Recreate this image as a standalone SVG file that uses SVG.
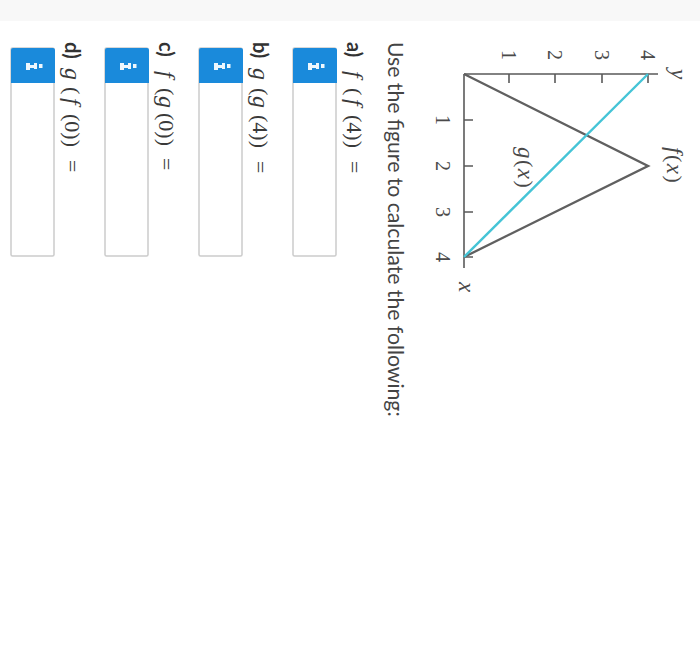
<svg xmlns="http://www.w3.org/2000/svg" width="700" height="659" viewBox="0 0 700 659">
<style>
.ax{stroke:#5a5a5a;stroke-width:1.600;fill:none}
.f{stroke:#606060;stroke-width:2.400;fill:none}
.g{stroke:#45c4d6;stroke-width:2.400;fill:none}
.n{font-family:"Liberation Serif",serif;font-size:20px;fill:#4a4a4a}
.i{font-family:"Liberation Serif",serif;font-style:italic;font-size:23px;fill:#4a4a4a;letter-spacing:1.500px}
.m{font-family:"Liberation Serif",serif;font-size:22px;fill:#3a3a3a}
.mi{font-family:"Liberation Serif",serif;font-style:italic;font-size:24px;fill:#3a3a3a}
.r{font-style:normal;font-size:22px}
.b{font-family:Lato,sans-serif;font-weight:700;font-size:20px;fill:#333}
.t{font-family:Lato,sans-serif;font-size:21.200px;fill:#444}
.box{fill:#fff;stroke:#ccc;stroke-width:1.500}
.btn{fill:#1a8adb}
.ic{fill:#eef7fd}
</style>
<defs>
<g id="answer">
<rect class="box" x="0" y="0" width="43" height="208" rx="1.500"/>
<path class="btn" d="M0 35V2a2 2 0 0 1 2-2H42a2 2 0 0 1 2 2V35Z"/>
<path class="ic" d="M15 15h4v2h4v-2h3v6h-3v-1h-4v2h-4Z"/>
<rect class="ic" x="28" y="16" width="3.500" height="4"/>
</g>
</defs>
<rect width="700" height="659" fill="#fff"/>
<rect width="700" height="21" fill="#f8f8f8"/>
<g id="plot">
<path class="ax" d="M464 74V268M464 74H658M464 120h9M464 166h9M464 212h9M464 257h9M509 74v9M555 74v9M602 74v9M648 74v9"/>
<path class="f" d="M464 74L648 166L464 257"/>
<path class="g" d="M464 257L648 74"/>
<text class="n" transform="translate(436 115) rotate(90)">1</text>
<text class="n" transform="translate(436 161) rotate(90)">2</text>
<text class="n" transform="translate(436 207) rotate(90)">3</text>
<text class="n" transform="translate(436 252) rotate(90)">4</text>
<text class="n" transform="translate(502 50) rotate(90)">1</text>
<text class="n" transform="translate(548 50) rotate(90)">2</text>
<text class="n" transform="translate(595 50) rotate(90)">3</text>
<text class="n" transform="translate(641 50) rotate(90)">4</text>
<text class="i" transform="translate(671 69) rotate(90)">y</text>
<text class="i" transform="translate(459 282) rotate(90)">x</text>
<text class="i" transform="translate(667 147) rotate(90)">f<tspan class="r">(</tspan>x<tspan class="r">)</tspan></text>
<text class="i" transform="translate(518 147) rotate(90)">g<tspan class="r">(</tspan>x<tspan class="r">)</tspan></text>
</g>
<text id="prompt" class="t" transform="translate(388 42) rotate(90)">Use the figure to calculate the following:</text>
<g id="part-a">
<text class="b" transform="translate(347 42) rotate(90)">a)</text>
<text class="mi" transform="translate(347 0) rotate(90)"><tspan x="71">f</tspan><tspan class="r" x="88">(</tspan><tspan x="99">f</tspan><tspan class="r" x="115">(4))</tspan><tspan class="r" x="161">=</tspan></text>
<use href="#answer" x="293" y="48"/>
</g>
<g id="part-b">
<text class="b" transform="translate(253 42) rotate(90)">b)</text>
<text class="mi" transform="translate(253 0) rotate(90)"><tspan x="68">g</tspan><tspan class="r" x="88">(</tspan><tspan x="96">g</tspan><tspan class="r" x="115">(4))</tspan><tspan class="r" x="161">=</tspan></text>
<use href="#answer" x="199" y="48"/>
</g>
<g id="part-c">
<text class="b" transform="translate(159 42) rotate(90)">c)</text>
<text class="mi" transform="translate(159 0) rotate(90)"><tspan x="71">f</tspan><tspan class="r" x="88">(</tspan><tspan x="96">g</tspan><tspan class="r" x="113">(0))</tspan><tspan class="r" x="158">=</tspan></text>
<use href="#answer" x="105" y="48"/>
</g>
<g id="part-d">
<text class="b" transform="translate(65 42) rotate(90)">d)</text>
<text class="mi" transform="translate(65 0) rotate(90)"><tspan x="68">g</tspan><tspan class="r" x="87">(</tspan><tspan x="98">f</tspan><tspan class="r" x="114">(0))</tspan><tspan class="r" x="160">=</tspan></text>
<use href="#answer" x="11" y="48"/>
</g>
</svg>
